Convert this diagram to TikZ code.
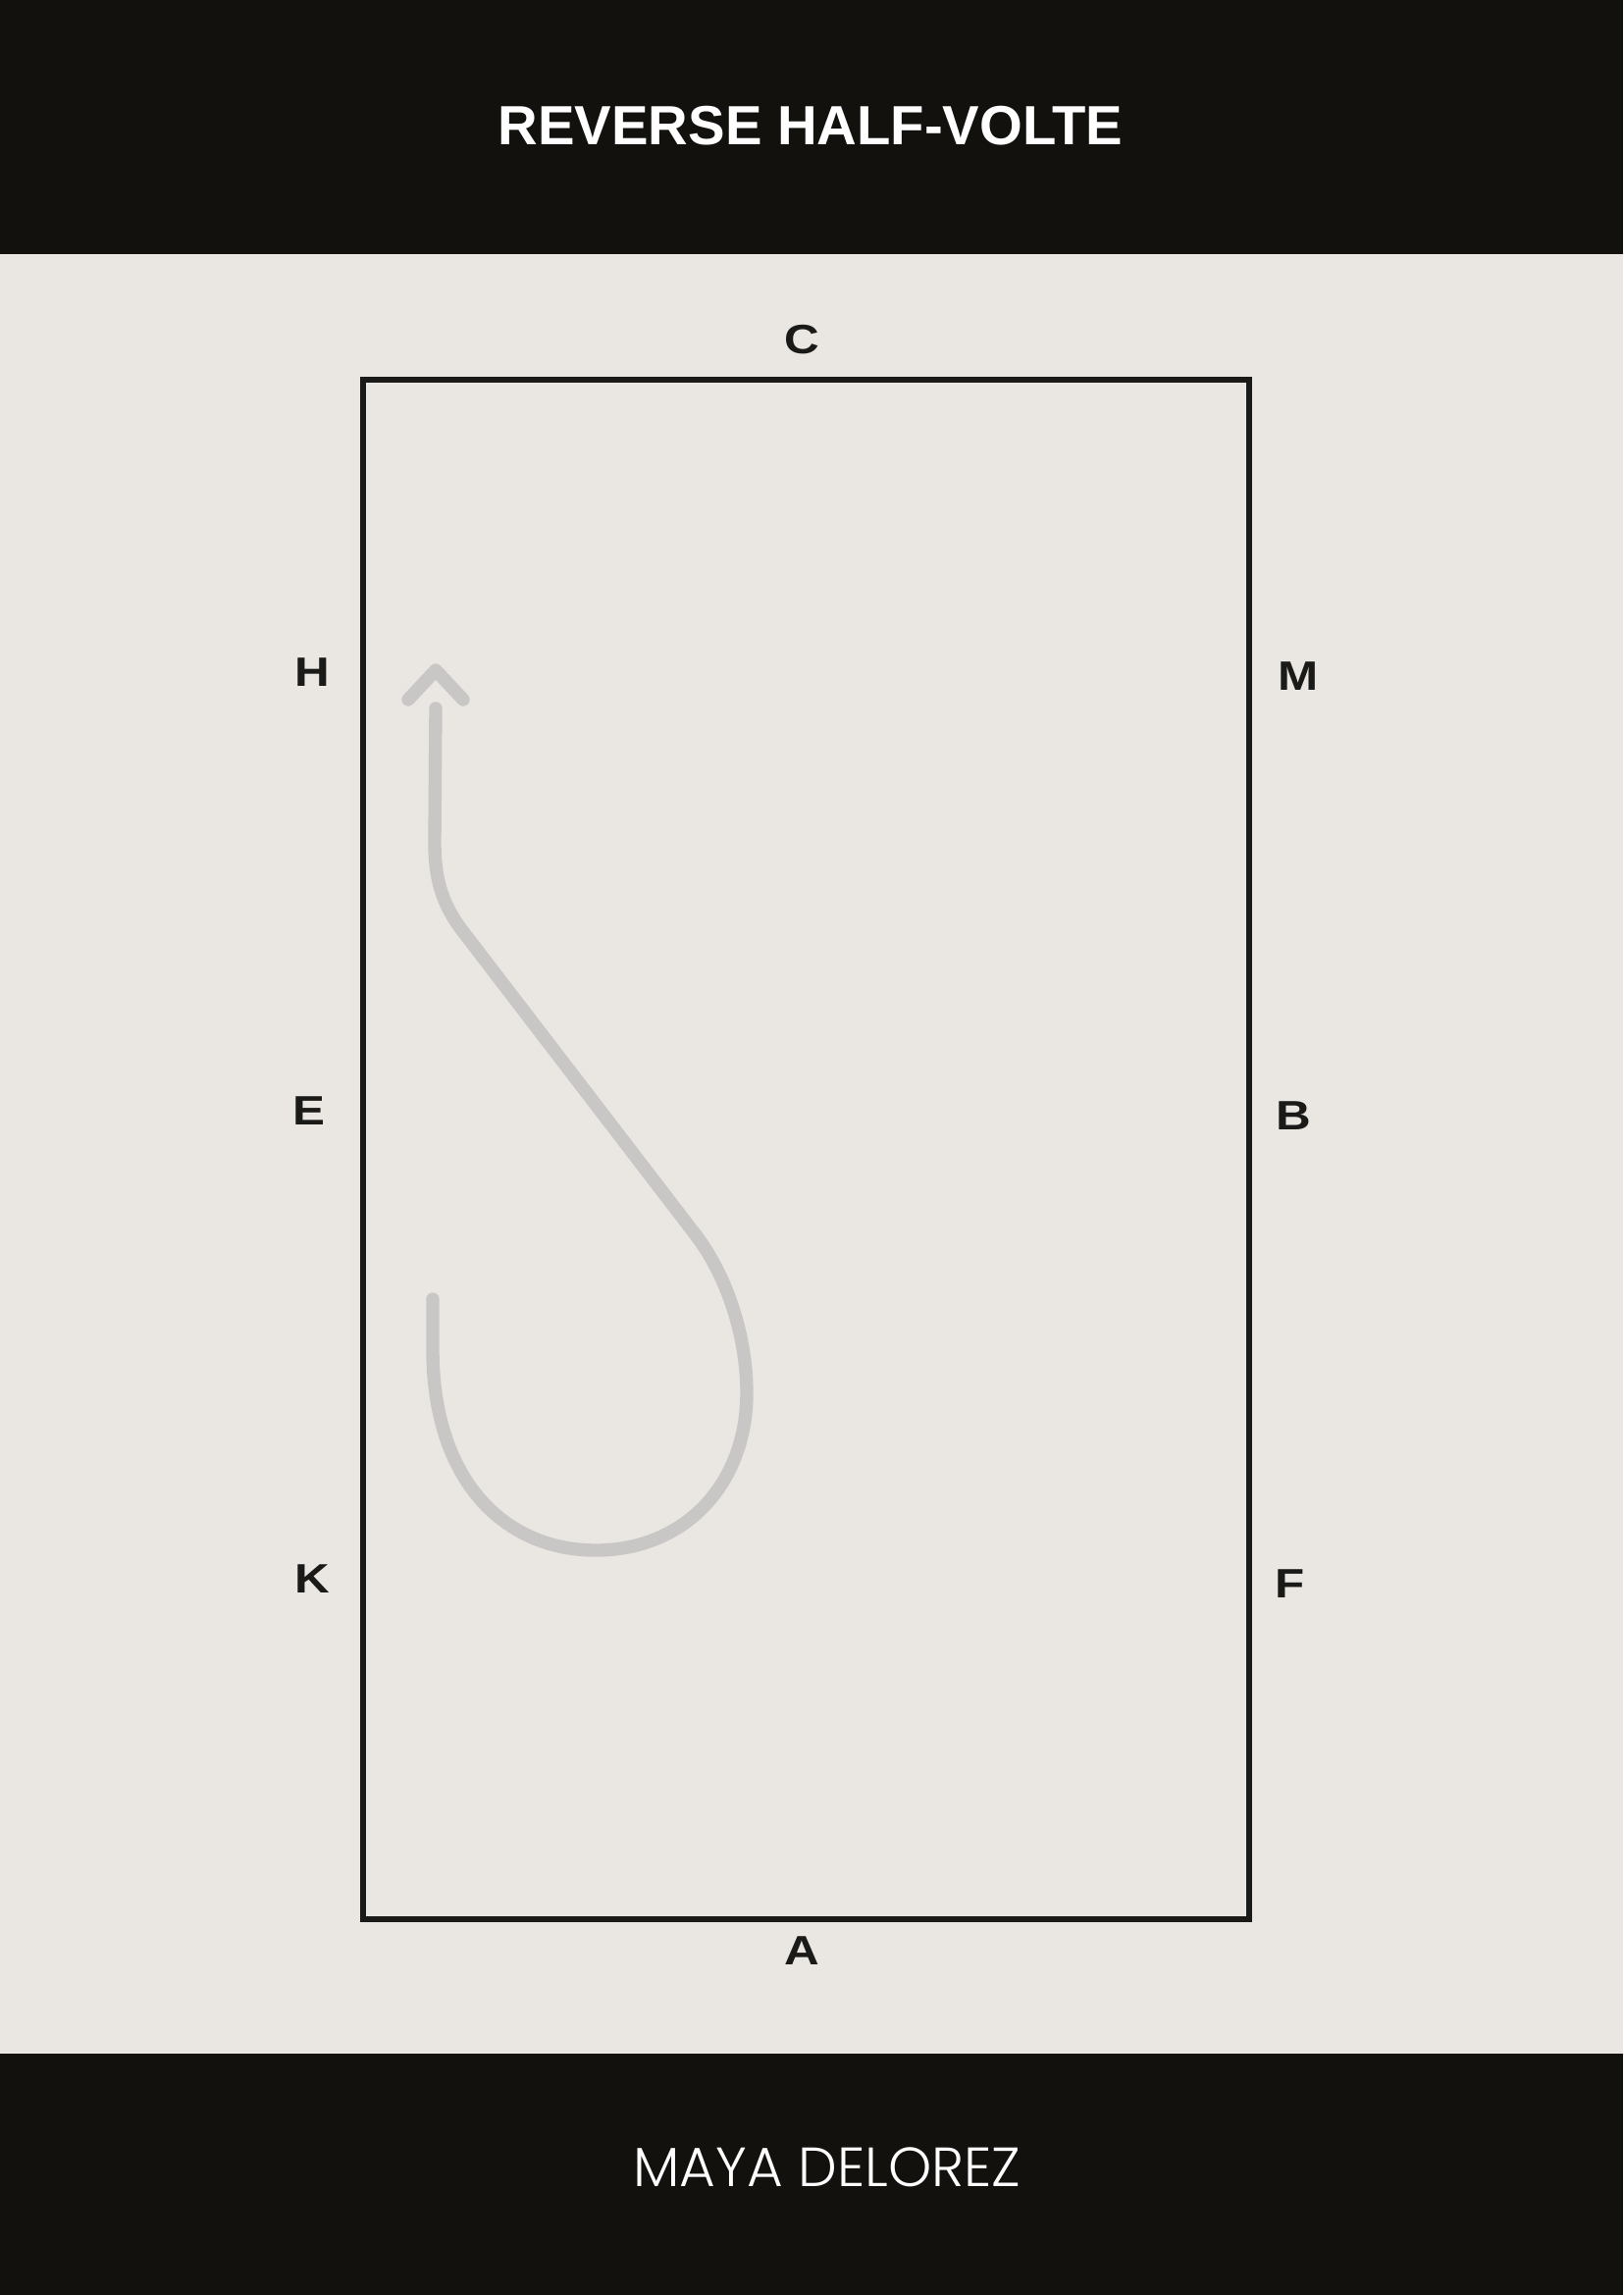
\documentclass[tikz,border=0pt]{standalone}
\usepackage{fontspec}
\setmainfont{Liberation Sans}
\newfontfamily\namefont{Poppins Light}
\newfontfamily\letterfont{Liberation Sans}[FakeStretch=1.18]
\usetikzlibrary{positioning}

\definecolor{band}{HTML}{12110D}
\definecolor{paper}{HTML}{EAE7E2}
\definecolor{trackgray}{HTML}{C8C7C5}
\definecolor{ink}{HTML}{1A1A18}

\tikzset{
	letter/.style={text=ink, font=\letterfont\fontsize{11.9}{12}\selectfont\bfseries, inner sep=0pt},
	arena/.style={draw=ink, line width=1.45pt},
	track/.style={draw=trackgray, line width=3.8pt, line cap=round, line join=round},
}

\begin{document}
\begin{tikzpicture}[x=0.01cm, y=-0.01cm]
	\useasboundingbox (0,0) rectangle (1654,2339);
	\fill[paper] (0,0) rectangle (1654,2339);
	\fill[band] (0,0) rectangle (1654,259);
	\fill[band] (0,2093) rectangle (1654,2339);

	% title and rider
	\node[text=white, inner sep=0pt, font=\fontsize{16}{18}\selectfont\bfseries] (title) at (826,128) {REVERSE HALF-VOLTE};
	\node[text=white, inner sep=0pt, font=\namefont\fontsize{16}{18}\selectfont] (rider) at (843,2209) {MAYA DELOREZ};

	% arena
	\coordinate (nw) at (370,387);
	\coordinate (se) at (1273,1956);
	\draw[arena] (nw) rectangle (se);

	\node[letter] (c) at (817,346) {C};
	\node[letter] (a) at (817,1988) {A};
	\node[letter] (h) at (318,685) {H};
	\node[letter] (e) at (315,1132) {E};
	\node[letter] (k) at (318,1609) {K};
	\node[letter] (m) at (1323,689) {M};
	\node[letter] (b) at (1318,1137) {B};
	\node[letter] (f) at (1315,1614) {F};

	% the figure
	\coordinate (start) at (441,1324);
	\coordinate (tip) at (444,683);
	\coordinate (end) at (444,722);
	\draw[track] (start) -- (441,1375)
		.. controls (441,1510) and (515,1580) .. (607,1580)
		.. controls (700,1580) and (761,1510) .. (761,1420)
		.. controls (761,1360) and (740,1300) .. (710,1260)
		-- (470,947)
		.. controls (450,920) and (443,895) .. (443,858)
		-- (end);
	\draw[track] ([shift={(-28,30)}]tip) -- (tip) -- ([shift={(28,30)}]tip);
\end{tikzpicture}
\end{document}
